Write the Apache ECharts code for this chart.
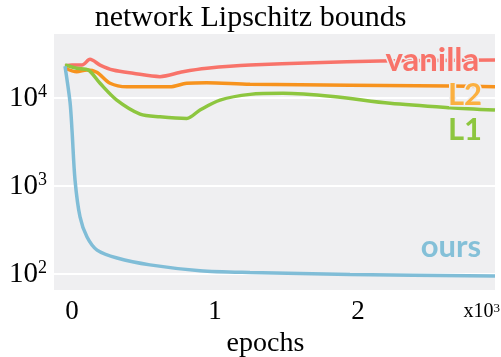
<!DOCTYPE html>
<html lang="en">
<head>
   <meta charset="UTF-8">
   <script type="text/javascript" src="https://cdn.jsdelivr.net/npm/echarts@6.0.0/dist/echarts.min.js"></script>
   <title>network Lipschitz bounds</title>
   <style>
      body { margin: 0; background: #fff; }
   </style>
</head>
<body>
   <div id="container" style="width: 501px; height: 357px"></div>

   <script>
      // epochs / value pairs
      var vanilla = [[-49, 23100], [0, 23700], [70, 23700], [126, 27500], [196, 23700], [287, 20800], [427, 19100],
         [615, 17500], [776, 19900], [944, 21800], [1245, 23700], [2154, 26300], [2958, 27000]];
      var l2 = [[-49, 21800], [33, 19900], [103, 20800], [173, 19600], [266, 14700], [383, 13400], [497, 13400],
         [685, 13400], [802, 14700], [942, 14900], [1245, 14300], [2643, 13700], [2958, 13400]];
      var l1 = [[-49, 23700], [33, 21800], [114, 20800], [196, 14700], [313, 9480], [476, 6580], [615, 6130],
         [802, 5870], [895, 7310], [1035, 9480], [1245, 11000], [1476, 11300], [1825, 10400], [2224, 8700],
         [2643, 7770], [2958, 7310]];
      var ours = [[-49, 23000], [-14, 9000], [0, 4300], [21, 1170], [56, 445], [105, 263], [175, 187], [315, 152],
         [545, 127], [895, 109], [1245, 104], [1944, 99], [2958, 95]];

      var names = ['vanilla', 'L2', 'L1', 'ours'];
      var labelPos = [[2520, 27000], [2748, 10800], [2748, 4330], [2650, 203]];
      var xTicks = [0, 1000, 2000];

      var lineColors = ['#f8736a', '#f7931e', '#8dc63f', '#80bdd7'];
      var labelColors = ['#f8736a', '#fbb040', '#8dc63f', '#84c0d8'];
      var bg = '#efeff1';

      var chartDom = document.getElementById('container');
      var myChart = echarts.init(chartDom);

      function makeSeries(i, data) {
         return {
            name: names[i],
            type: 'line',
            data: data,
            showSymbol: false,
            smooth: 0.3,
            lineStyle: { color: lineColors[i], width: 3.5 },
            markPoint: {
               symbol: 'circle',
               symbolSize: 0,
               data: [{ coord: labelPos[i] }],
               label: {
                  show: true,
                  position: 'inside',
                  formatter: names[i],
                  fontFamily: 'Lato',
                  fontWeight: 'bold',
                  fontSize: i === 0 ? 33 : 31,
                  color: labelColors[i],
                  textBorderColor: bg,
                  textBorderWidth: 3
               },
               z: 10
            }
         };
      }

      var option = {
         animation: false,
         title: {
            text: 'network Lipschitz bounds',
            left: 'center',
            top: -2,
            textStyle: { fontFamily: 'Liberation Serif', fontWeight: 'normal', fontSize: 30, color: '#000' }
         },
         grid: {
            left: 54, right: 6, top: 34, bottom: 67,
            outerBoundsMode: 'none',
            containLabel: false,
            show: true, backgroundColor: bg, borderWidth: 0
         },
         xAxis: {
            type: 'value',
            min: -126,
            max: 2958,
            name: 'epochs',
            nameLocation: 'middle',
            nameGap: 31,
            nameTextStyle: { fontFamily: 'Liberation Serif', fontSize: 28, color: '#000', padding: [0, 18, 0, 0] },
            axisLine: { show: false },
            axisTick: { show: false, customValues: xTicks },
            splitLine: { show: false },
            axisLabel: {
               customValues: xTicks,
               margin: 8,
               fontFamily: 'Liberation Serif',
               fontSize: 27,
               color: '#000',
               formatter: function (v) { return String(v / 1000); }
            }
         },
         yAxis: {
            type: 'log',
            logBase: 10,
            min: 65.8,
            max: 53400,
            axisLine: { show: false },
            axisTick: { show: false },
            splitLine: { show: true, showMinLine: false, showMaxLine: false, lineStyle: { color: '#fff', width: 2 } },
            axisLabel: {
               showMinLabel: false,
               showMaxLabel: false,
               margin: 7,
               formatter: function (v) {
                  var e = Math.log10(v);
                  if (Math.abs(e - Math.round(e)) > 1e-6) return '';
                  return '{b|10}{s|' + Math.round(e) + '}';
               },
               rich: {
                  b: { fontFamily: 'Liberation Serif', fontSize: 29, color: '#000', lineHeight: 30 },
                  s: { fontFamily: 'Liberation Serif', fontSize: 18, color: '#000', verticalAlign: 'top', lineHeight: 17 }
               }
            }
         },
         graphic: [{
            type: 'text',
            right: 1,
            top: 302,
            style: {
               text: '{a|x10}{s|3}',
               rich: {
                  a: { fontFamily: 'Liberation Serif', fontSize: 20, fill: '#000', lineHeight: 20 },
                  s: { fontFamily: 'Liberation Serif', fontSize: 13, fill: '#000', verticalAlign: 'top', lineHeight: 12 }
               }
            }
         }],
         series: [makeSeries(0, vanilla), makeSeries(1, l2), makeSeries(2, l1), makeSeries(3, ours)]
      };

      option && myChart.setOption(option);
   </script>
</body>
</html>
